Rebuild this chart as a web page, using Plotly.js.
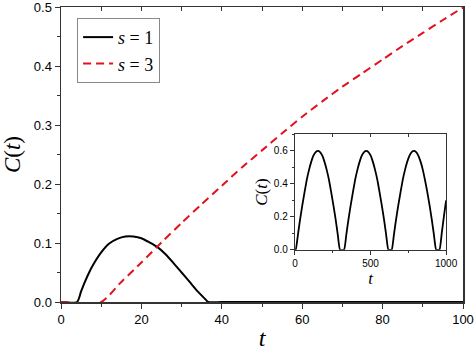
<!DOCTYPE html>
<html>
<head>
<meta charset="utf-8">
<script src="https://cdn.plot.ly/plotly-3.0.1.min.js"></script>
<style>html,body{margin:0;padding:0;background:#fff}#chart{width:474px;height:351px}</style>
</head>
<body>
<div id="chart"></div>
<script>
// s = 1 (main panel)
const t1 = [0, 4, 5, 6, 7, 8, 10, 12, 14, 16, 18, 20, 22, 24, 26, 28, 30, 32, 34, 36, 36.6, 40, 60, 80, 100];
const c1 = [0, 0, 0.018, 0.035, 0.050, 0.063, 0.084, 0.099, 0.107, 0.111, 0.111, 0.108, 0.101, 0.093, 0.081, 0.066, 0.050, 0.034, 0.018, 0.004, 0, 0, 0, 0, 0];
// s = 3 (main panel)
const t3 = [0, 10, 15, 20, 25, 30, 35, 40, 45, 50, 55, 60, 65, 70, 75, 80, 85, 90, 95, 100];
const c3 = [0, 0, 0.034, 0.067, 0.101, 0.134, 0.166, 0.197, 0.228, 0.257, 0.286, 0.314, 0.340, 0.365, 0.388, 0.411, 0.434, 0.456, 0.478, 0.499];
// inset, s = 1 long time
const tIn = [0, 5, 20, 34, 49, 64, 78, 93, 108, 122, 137, 152, 166, 181, 195, 210, 225, 239, 254, 269, 283, 298,
  325, 340, 354, 369, 384, 398, 413, 428, 442, 457, 472, 486, 501, 515, 530, 545, 559, 574, 589, 603, 618,
  640, 655, 669, 684, 699, 713, 728, 743, 758, 772, 787, 802, 816, 831, 846, 860, 875, 890, 905, 919, 934,
  956, 971, 985, 1000];
const cIn = [0, 0, 0.094, 0.185, 0.272, 0.353, 0.424, 0.485, 0.535, 0.571, 0.593, 0.6, 0.593, 0.571, 0.535, 0.485, 0.424, 0.353, 0.272, 0.185, 0.094, 0,
  0, 0.094, 0.185, 0.272, 0.353, 0.424, 0.485, 0.535, 0.571, 0.593, 0.6, 0.593, 0.571, 0.535, 0.485, 0.424, 0.353, 0.272, 0.185, 0.094, 0,
  0, 0.094, 0.185, 0.272, 0.353, 0.424, 0.485, 0.535, 0.571, 0.593, 0.6, 0.593, 0.571, 0.535, 0.485, 0.424, 0.353, 0.272, 0.185, 0.094, 0,
  0, 0.1, 0.2, 0.3];
const legendNames = ['<i>s</i> = 1', '<i>s</i> = 3'];
const emptyX = [];
const emptyY = [];

const serif = '"Liberation Serif", "Times New Roman", serif';
const sans = '"Liberation Sans", Arial, sans-serif';
const axCol = '#333';

const data = [
  {x: t1, y: c1, type: 'scatter', mode: 'lines', name: legendNames[0], line: {color: '#000', width: 2, shape: 'spline', smoothing: 0.6}, xaxis: 'x', yaxis: 'y'},
  {x: t3, y: c3, type: 'scatter', mode: 'lines', name: legendNames[1], line: {color: '#e3101e', width: 2, dash: '8px,5px', shape: 'spline', smoothing: 0.6}, xaxis: 'x', yaxis: 'y'},
  {x: tIn, y: cIn, type: 'scatter', mode: 'lines', showlegend: false, line: {color: '#000', width: 1.8, shape: 'spline', smoothing: 0.4}, xaxis: 'x2', yaxis: 'y2'},
  {x: emptyX, y: emptyY, type: 'scatter', mode: 'lines', showlegend: false, hoverinfo: 'skip', xaxis: 'x3', yaxis: 'y'},
  {x: emptyX, y: emptyY, type: 'scatter', mode: 'lines', showlegend: false, hoverinfo: 'skip', xaxis: 'x4', yaxis: 'y2'}
];

const layout = {
  width: 474, height: 351,
  margin: {l: 61, r: 11, t: 7, b: 49},
  paper_bgcolor: '#fff', plot_bgcolor: '#fff',
  font: {family: sans, color: '#000'},
  showlegend: true,
  legend: {x: 0.04, y: 0.963, xanchor: 'left', yanchor: 'top', bgcolor: '#fff', bordercolor: '#888', borderwidth: 1,
    font: {family: serif, size: 18}, tracegroupgap: 2},
  xaxis: {domain: [0, 1], range: [0, 100], tickvals: [0, 20, 40, 60, 80, 100], ticks: 'outside', ticklen: 5, tickcolor: axCol,
    minor: {ticks: 'outside', dtick: 10, ticklen: 3, tickcolor: axCol},
    showline: true, linecolor: axCol, linewidth: 1.5, mirror: true, showgrid: false, zeroline: false,
    ticklabeloverflow: 'allow', tickfont: {size: 13, family: sans},
    title: {text: '<i>t</i>', font: {family: serif, size: 24}, standoff: 4}},
  yaxis: {domain: [0, 1], range: [0, 0.5], tickvals: [0, 0.1, 0.2, 0.3, 0.4, 0.5], tickformat: '.1f', ticks: 'outside', ticklen: 5, tickcolor: axCol,
    minor: {ticks: 'outside', dtick: 0.05, ticklen: 3, tickcolor: axCol},
    showline: true, linecolor: axCol, linewidth: 1.5, mirror: true, showgrid: false, zeroline: false,
    ticklabeloverflow: 'allow', tickfont: {size: 13, family: sans},
    title: {text: '<i>C</i>(<i>t</i>)', font: {family: serif, size: 23}, standoff: 14}},
  xaxis3: {overlaying: 'x', anchor: 'y', side: 'top', range: [0, 100], dtick: 10, ticks: 'inside', ticklen: 4, tickcolor: axCol,
    showticklabels: false, showline: false, showgrid: false, zeroline: false},
  xaxis2: {domain: [0.582, 0.958], anchor: 'y2', range: [0, 1000], tickvals: [0, 500, 1000], ticks: 'outside', ticklen: 4, tickcolor: axCol,
    minor: {ticks: 'outside', dtick: 250, ticklen: 2, tickcolor: axCol},
    showline: true, linecolor: axCol, linewidth: 1.2, mirror: true, showgrid: false, zeroline: false,
    tickfont: {size: 10, family: sans},
    title: {text: '<i>t</i>', font: {family: serif, size: 17}, standoff: 3}},
  yaxis2: {domain: [0.177, 0.568], anchor: 'x2', range: [0, 0.7], tickvals: [0, 0.2, 0.4, 0.6], tickformat: '.1f', ticks: 'outside', ticklen: 4, tickcolor: axCol,
    minor: {ticks: 'outside', dtick: 0.1, ticklen: 2, tickcolor: axCol},
    showline: true, linecolor: axCol, linewidth: 1.2, mirror: true, showgrid: false, zeroline: false,
    tickfont: {size: 10, family: sans},
    title: {text: '<i>C</i>(<i>t</i>)', font: {family: serif, size: 17}, standoff: 2}},
  xaxis4: {overlaying: 'x2', anchor: 'y2', side: 'top', range: [0, 1000], dtick: 250, ticks: 'inside', ticklen: 3, tickcolor: axCol,
    showticklabels: false, showline: false, showgrid: false, zeroline: false}
};

Plotly.newPlot('chart', data, layout, {displayModeBar: false, staticPlot: true});
</script>
</body>
</html>
